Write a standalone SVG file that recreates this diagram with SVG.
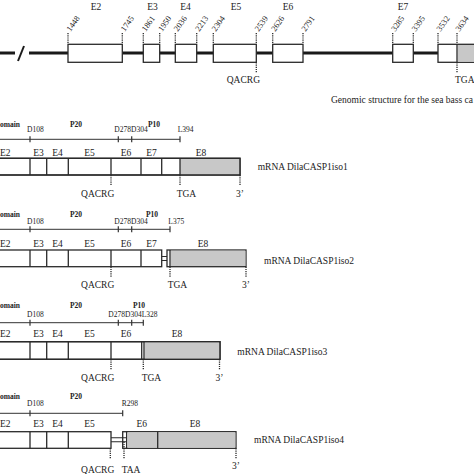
<svg xmlns="http://www.w3.org/2000/svg" width="474" height="474" viewBox="0 0 474 474">
<defs>
<style>
.bg{fill:#fff}
.ex{fill:#fff;stroke:#2a2a2a;stroke-width:1.3}
.exo{fill:none;stroke:#2a2a2a;stroke-width:1.3}
.gr{fill:#c8c8c8}
.dv{stroke:#2a2a2a;stroke-width:1.3}
.dot{stroke:#2a2a2a;stroke-width:1.3;stroke-dasharray:1.2 1;fill:none}
.gl{stroke:#1a1a1a;stroke-width:3;fill:none}
.dl{stroke:#333;stroke-width:1;fill:none}
.tk{stroke:#333;stroke-width:1.2}
.cn{stroke:#2a2a2a;stroke-width:1.1;fill:none}
text{font-family:"Liberation Serif","Times New Roman",serif;fill:#222}
.t{font-size:9.5px}
.n{font-size:8.3px}
.s{font-size:7.5px}
.b{font-size:7.5px;font-weight:bold}
.m{text-anchor:middle}
.e{text-anchor:end}
</style>
</defs>
<rect class="bg" x="0" y="0" width="474" height="474"/>

<!-- Genomic structure -->
<g id="connectors">
<path class="gl" d="M0 53H15M29 53H438"/>
<line x1="18" y1="61" x2="24" y2="46" stroke="#1a1a1a" stroke-width="2"/>
<g class="dot">
<path d="M68 33V44M122.3 33V44M143.3 33V44M159.7 33V44M175.3 33V44M196.7 33V44M213.3 33V44M256.3 33V44M272.7 33V44M303 33V44M392.7 33V44M413.3 33V44M438 33V44M457 33V44"/>
<path d="M256.3 62.3V73M457 62.3V73"/>
</g>
</g>
<g id="genomic">
<g id="g-E2"><rect class="ex" x="68" y="44.3" width="54.3" height="18"/><text class="t m" x="96" y="10">E2</text></g>
<g id="g-E3"><rect class="ex" x="143.3" y="44.3" width="16.4" height="18"/><text class="t m" x="152.5" y="10">E3</text></g>
<g id="g-E4"><rect class="ex" x="175.3" y="44.3" width="21.4" height="18"/><text class="t m" x="185.5" y="10">E4</text></g>
<g id="g-E5"><rect class="ex" x="213.3" y="44.3" width="43" height="18"/><text class="t m" x="236" y="10">E5</text></g>
<g id="g-E6"><rect class="ex" x="272.7" y="44.3" width="30.3" height="18"/><text class="t m" x="288" y="10">E6</text></g>
<g id="g-E7"><rect class="ex" x="392.7" y="44.3" width="20.6" height="18"/><text class="t m" x="403" y="10">E7</text></g>
<g id="g-E8"><rect class="ex" x="438" y="44.3" width="45" height="18"/><rect class="gr" x="457.6" y="45" width="25" height="16.6"/><line class="dv" x1="457" y1="44.3" x2="457" y2="62.3"/></g>
<g id="g-nums" class="n">
<text transform="translate(70.5 32) rotate(-55)">1448</text>
<text transform="translate(124.8 32) rotate(-55)">1745</text>
<text transform="translate(145.8 32) rotate(-55)">1861</text>
<text transform="translate(162.2 32) rotate(-55)">1950</text>
<text transform="translate(177.8 32) rotate(-55)">2036</text>
<text transform="translate(199.2 32) rotate(-55)">2213</text>
<text transform="translate(215.8 32) rotate(-55)">2304</text>
<text transform="translate(258.8 32) rotate(-55)">2539</text>
<text transform="translate(275.2 32) rotate(-55)">2626</text>
<text transform="translate(305.5 32) rotate(-55)">2791</text>
<text transform="translate(395.2 32) rotate(-55)">3285</text>
<text transform="translate(415.8 32) rotate(-55)">3395</text>
<text transform="translate(440.5 32) rotate(-55)">3532</text>
<text transform="translate(459.5 32) rotate(-55)">3634</text>
</g>
<text class="t e" x="260" y="83">QACRG</text>
<text class="t" x="455" y="83">TGA</text>
<text class="t" x="331" y="103">Genomic structure for the sea bass ca</text>
</g>

<!-- Row 1 -->
<g id="iso1">
<text class="b" x="0" y="126.7">omain</text>
<text class="b m" x="76" y="126.7">P20</text>
<text class="b m" x="154" y="126.7">P10</text>
<text class="s" x="27" y="131.7">D108</text>
<text class="s" x="114.3" y="131.7">D278D304</text>
<text class="s" x="177.7" y="131.7">L394</text>
<path class="dl" d="M0 139.3H180"/>
<path class="tk" d="M30 136.3V142.3M118.3 136.3V142.3M131.7 136.3V142.3M180 136.3V142.3"/>
<rect class="ex" x="-5" y="158.3" width="245" height="16.7"/>
<rect class="gr" x="180" y="159" width="59.4" height="15.3"/>
<path class="dv" d="M30 158.3V175M46.7 158.3V175M68.3 158.3V175M111 158.3V175M141 158.3V175M161.7 158.3V175M180 158.3V175"/>
<rect class="exo" x="-5" y="158.3" width="245" height="16.7"/>
<text class="t" x="0" y="156">E2</text>
<text class="t m" x="38.5" y="156">E3</text>
<text class="t m" x="57.5" y="156">E4</text>
<text class="t m" x="89.5" y="156">E5</text>
<text class="t m" x="126" y="156">E6</text>
<text class="t m" x="151.5" y="156">E7</text>
<text class="t m" x="201" y="156">E8</text>
<path class="dot" d="M111 175V186M180 175V186M240 175V186"/>
<text class="t e" x="114.3" y="196.5">QACRG</text>
<text class="t" x="176.7" y="196.5">TGA</text>
<text class="t m" x="240" y="196.5">3’</text>
<text class="t" x="257.7" y="170">mRNA DilaCASP1iso1</text>
</g>

<!-- Row 2 -->
<g id="iso2">
<text class="b" x="0" y="216.7">omain</text>
<text class="b m" x="76" y="216.7">P20</text>
<text class="b m" x="152" y="216.7">P10</text>
<text class="s" x="27" y="223.5">D108</text>
<text class="s" x="114.3" y="223.5">D278D304</text>
<text class="s" x="168.3" y="223.5">L375</text>
<path class="dl" d="M0 229.3H170"/>
<path class="tk" d="M30 226.3V232.3M118.3 226.3V232.3M131.7 226.3V232.3M170 226.3V232.3"/>
<rect class="ex" x="-5" y="250" width="166.7" height="16.7"/>
<path class="dv" d="M30 250V266.7M46.7 250V266.7M68.3 250V266.7M111 250V266.7M141 250V266.7"/>
<path class="cn" d="M161.7 256.5H167M161.7 260.5H167"/>
<rect class="ex" x="167" y="250" width="79" height="16.7"/>
<rect class="gr" x="170.6" y="250.7" width="74.8" height="15.3"/>
<path class="dv" d="M170 250V266.7"/>
<text class="t" x="0" y="246.7">E2</text>
<text class="t m" x="38.5" y="246.7">E3</text>
<text class="t m" x="57.5" y="246.7">E4</text>
<text class="t m" x="89.5" y="246.7">E5</text>
<text class="t m" x="126" y="246.7">E6</text>
<text class="t m" x="151.5" y="246.7">E7</text>
<text class="t m" x="203" y="246.7">E8</text>
<path class="dot" d="M111 266.7V277M170 266.7V277M246 266.7V277"/>
<text class="t e" x="114.3" y="288.3">QACRG</text>
<text class="t" x="167.7" y="288.3">TGA</text>
<text class="t m" x="246" y="288.3">3’</text>
<text class="t" x="264" y="263.5">mRNA DilaCASP1iso2</text>
</g>

<!-- Row 3 -->
<g id="iso3">
<text class="b" x="0" y="308">omain</text>
<text class="b m" x="76" y="308">P20</text>
<text class="b m" x="139" y="308">P10</text>
<text class="s" x="27" y="316.8">D108</text>
<text class="s" x="108.3" y="316.8">D278D304L328</text>
<path class="dl" d="M0 322.7H143.3"/>
<path class="tk" d="M30 319.7V325.7M118.3 319.7V325.7M131.7 319.7V325.7M143.3 319.7V325.7"/>
<rect class="ex" x="-5" y="341.7" width="225" height="17.6"/>
<rect class="gr" x="144.6" y="342.4" width="74.8" height="16.2"/>
<path class="dv" d="M30 341.7V359.3M46.7 341.7V359.3M68.3 341.7V359.3M111 341.7V359.3M141.7 341.7V359.3M144 341.7V359.3"/>
<rect class="exo" x="-5" y="341.7" width="225" height="17.6"/>
<text class="t" x="0" y="336.7">E2</text>
<text class="t m" x="38.5" y="336.7">E3</text>
<text class="t m" x="57.5" y="336.7">E4</text>
<text class="t m" x="89.5" y="336.7">E5</text>
<text class="t m" x="126" y="336.7">E6</text>
<text class="t m" x="177" y="336.7">E8</text>
<path class="dot" d="M111 359.3V370M143.3 359.3V370M219.5 359.3V370"/>
<text class="t e" x="114.3" y="381">QACRG</text>
<text class="t" x="141.7" y="381">TGA</text>
<text class="t m" x="219.5" y="381">3’</text>
<text class="t" x="237.3" y="355">mRNA DilaCASP1iso3</text>
</g>

<!-- Row 4 -->
<g id="iso4">
<text class="b" x="0" y="399">omain</text>
<text class="b m" x="76" y="399">P20</text>
<text class="s" x="27" y="406">D108</text>
<text class="s" x="121.7" y="406">R298</text>
<path class="dl" d="M0 413.3H122.7"/>
<path class="tk" d="M30 410.3V416.3M122.7 410.3V416.3"/>
<rect class="ex" x="-5" y="431.7" width="116" height="16.6"/>
<path class="dv" d="M30 431.7V448.3M46.7 431.7V448.3M68.3 431.7V448.3"/>
<rect class="ex" x="122.7" y="431.7" width="4" height="16.6"/>
<path class="cn" d="M111 437.7H126.7M111 441.7H126.7"/>
<rect class="ex" x="126.7" y="431.7" width="109.3" height="16.6"/>
<rect class="gr" x="127.4" y="432.4" width="107.9" height="15.2"/>
<path class="dv" d="M157.7 431.7V448.3"/>
<text class="t" x="0" y="426.7">E2</text>
<text class="t m" x="38.5" y="426.7">E3</text>
<text class="t m" x="57.5" y="426.7">E4</text>
<text class="t m" x="89.5" y="426.7">E5</text>
<text class="t m" x="141.7" y="426.7">E6</text>
<text class="t m" x="195" y="426.7">E8</text>
<path class="dot" d="M110.3 448.3V459M124 441.7V459M236 448.3V459"/>
<text class="t e" x="114.3" y="472.5">QACRG</text>
<text class="t" x="121.7" y="472.5">TAA</text>
<text class="t m" x="236" y="469">3’</text>
<text class="t" x="254" y="442.5">mRNA DilaCASP1iso4</text>
</g>
</svg>
